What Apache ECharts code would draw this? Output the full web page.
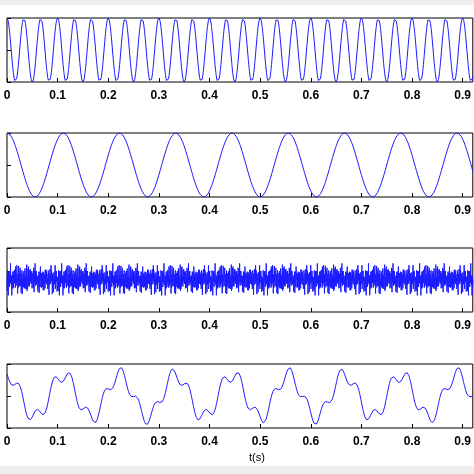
<!DOCTYPE html><html><head><meta charset="utf-8">
<script src="https://cdn.jsdelivr.net/npm/echarts@6/dist/echarts.min.js"></script>
<style>html,body{margin:0;background:#fff}#c{width:474px;height:474px}</style></head><body><div id="c"></div>
<script>
const xTicks=['0','0.1','0.2','0.3','0.4','0.5','0.6','0.7','0.8','0.9','1'];
const fastHz=30, slowHz=9, mixFastAmp=0.35;
const noiseVals=[0.3,-0.5,0.8,-0.2,0.1,-0.9,0.6,0.2,-0.4,0.7,-0.7,0.0,0.5,-0.3,0.9,-0.6,0.2,-0.1,0.4,-0.8,0.6,-0.2,0.1,0.7,-0.5,0.3,-0.9,0.5,0.0,-0.3,0.8,-0.4,0.2,-0.7,0.6,0.1,-0.2,0.4,-0.6,0.9,-0.1,0.3,-0.8,0.5,-0.4,0.2,0.7,-0.3,0.0,-0.6,0.4,-0.2,0.8,-0.5,0.1,0.6,-0.9,0.3,-0.1,0.5,-0.7,0.2,0.4,-0.3,0.7,-0.6,0.0,0.9,-0.4,0.1,-0.2,0.6,-0.8,0.3,0.5,-0.5,0.2,-0.1,0.8,-0.7,0.4,-0.3,0.1,0.6,-0.6,0.9,-0.2,0.0,0.3,-0.8,0.5,-0.4,0.7,-0.1,0.2,-0.5,0.6,-0.3,0.4,-0.9,0.1,0.8,-0.2,0.3,-0.6,0.5,0.0,-0.7,0.7,-0.4,0.2,0.9,-0.1,-0.5,0.4,-0.3,0.6,-0.8,0.1,0.3,-0.2,0.5,-0.6,0.8,-0.4,0.0,0.7,-0.7,0.2,-0.1,0.4,-0.5,0.9,-0.3,0.1,0.6,-0.8,0.3,-0.2,0.5,-0.4,0.7,0.0,-0.6,0.2,0.8,-0.5,0.4,-0.1,0.3,-0.9,0.6,-0.3,0.1,0.5,-0.7,0.2,-0.2,0.9,-0.4,0.4,-0.6,0.0,0.7,-0.1,0.3,-0.8,0.5,-0.5,0.2,0.6,-0.3,0.1,-0.7,0.8,-0.2,0.4,-0.4,0.3,-0.9,0.6,0.0,-0.1,0.5,-0.6,0.7,-0.3,0.2,0.1,-0.5,0.9,-0.8,0.4,-0.2,0.3,0.6,-0.4,0.0,-0.7,0.5,0.2,-0.3];
const N=2000, xMax=0.92;
const fast=[],slow=[],noise=[],mix=[];
for(let i=0;i<=N*xMax;i++){const t=i/N;
 fast.push([t,Math.cos(2*Math.PI*fastHz*t)]);
 slow.push([t,Math.cos(2*Math.PI*slowHz*t)]);
 mix.push([t,Math.cos(2*Math.PI*slowHz*t)+mixFastAmp*Math.cos(2*Math.PI*fastHz*t+1.5)]);
 const v=noiseVals[i%noiseVals.length]*0.8+noiseVals[(i*7+3)%noiseVals.length]*0.4;
 noise.push([t,v]);
}
const tops=[18,133,248,364], h=64;
const ranges=[[-1,1],[-1,1],[-2,2],[-1.5,1.5]];
const data=[fast,slow,noise,mix];
const grid=[],xAxis=[],yAxis=[],series=[];
for(let k=0;k<4;k++){
 grid.push({left:7,right:0,top:tops[k],height:h,show:true,borderColor:'#000',borderWidth:1});
 xAxis.push({type:'value',gridIndex:k,min:0,max:xMax,interval:0.1,position:'bottom',
  axisLine:{show:false,onZero:false},axisTick:{inside:true,length:4,lineStyle:{color:'#000'}},splitLine:{show:false},
  axisLabel:{color:'#000',fontFamily:'Arial',fontSize:12,fontWeight:'bold',margin:8,showMaxLabel:false,formatter:v=>xTicks[Math.round(v*10)]},
  name:k==3?'t(s)':'',nameLocation:'middle',nameGap:24,nameTextStyle:{color:'#000',fontFamily:'Arial',fontSize:11,padding:[0,0,0,34]}});
 yAxis.push({type:'value',gridIndex:k,min:ranges[k][0],max:ranges[k][1],interval:ranges[k][1],
  axisLine:{show:false,onZero:false},axisTick:{inside:true,length:4,lineStyle:{color:'#000'}},splitLine:{show:false},axisLabel:{show:false}});
 series.push({type:'line',xAxisIndex:k,yAxisIndex:k,data:data[k],showSymbol:false,animation:false,
  lineStyle:{color:'#1a1aff',width:1}});
}
const ch=echarts.init(document.getElementById('c'));
ch.setOption({animation:false,grid,xAxis,yAxis,series,
 graphic:[{type:'rect',shape:{x:0,y:0,width:474,height:5},style:{fill:'#eeeeee'}},{type:'rect',shape:{x:0,y:466,width:474,height:8},style:{fill:'#eeeeee'}}]});
</script></body></html>
